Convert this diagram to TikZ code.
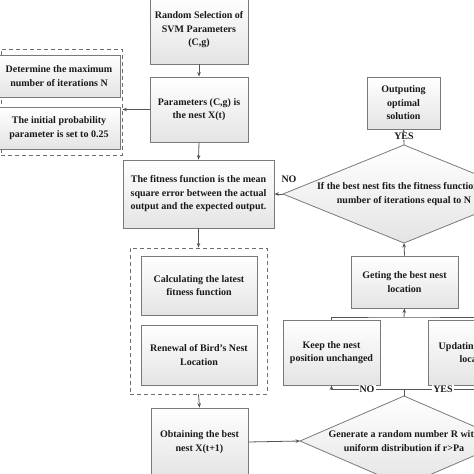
\documentclass[tikz,border=0pt]{standalone}
\usepackage{fontspec}
\setmainfont{Liberation Serif}
\usetikzlibrary{arrows.meta}
\definecolor{boxgray}{HTML}{7A7A7A}
\definecolor{fillgray}{HTML}{E4E4E4}
\definecolor{grpgray}{HTML}{6E6E6E}
\definecolor{arrgray}{HTML}{555555}
\definecolor{txt}{HTML}{1A1A1A}
\begin{document}
\begin{tikzpicture}[x=1pt,y=-1pt,
  box/.style={draw=boxgray, line width=0.8pt, top color=white, bottom color=fillgray,
    font=\bfseries\fontsize{10}{13.5}\selectfont, text=txt, align=center, inner sep=1pt},
  grp/.style={draw=grpgray, dash pattern=on 4pt off 3pt, line width=0.9pt},
  arr/.style={-{Stealth[length=4.5pt,width=3.6pt]}, draw=arrgray, line width=0.8pt},
  conn/.style={draw=arrgray, line width=0.8pt},
  lbl/.style={font=\bfseries\fontsize{10}{12}\selectfont, text=txt, inner sep=1pt},
  dtext/.style={font=\bfseries\fontsize{10}{13.5}\selectfont, text=txt, align=center, inner sep=0pt},
  diam/.style={draw=boxgray, line width=0.8pt, top color=white, bottom color=fillgray}
]
\useasboundingbox (0,0) rectangle (474,474);
\clip (0,0) rectangle (474,474);

% left column
\node[box, minimum width=98pt, minimum height=68pt] (b1) at (199,30) {Random Selection of\\SVM Parameters\\(C,g)};
\node[box, minimum width=98pt, minimum height=65pt] (b2) at (199,109.5) {Parameters (C,g) is\\the nest X(t)};
\node[grp, minimum width=121pt, minimum height=106pt] (g1) at (61.5,102) {};
\node[box, minimum width=122pt, minimum height=42pt] (nmax) at (59,76) {Determine the maximum\\number of iterations N};
\node[box, minimum width=122pt, minimum height=42pt] (prob) at (59,128) {The initial probability\\parameter is set to 0.25};
\node[box, minimum width=151pt, minimum height=68pt] (b3) at (198.5,194) {The fitness function is the mean\\square error between the actual\\output and the expected output.};
\node[grp, minimum width=137pt, minimum height=146pt] (g2) at (198.5,321) {};
\node[box, minimum width=116pt, minimum height=59pt] (calc) at (199,285.5) {Calculating the latest\\fitness function};
\node[box, minimum width=116pt, minimum height=60pt] (renew) at (199,355) {Renewal of Bird's Nest\\Location};
\node[box, minimum width=97pt, minimum height=68pt] (obt) at (199.5,442) {Obtaining the best\\nest X(t+1)};

% right column
\node[box, minimum width=73pt, minimum height=52pt] (out) at (403.5,103) {Outputing\\optimal\\solution};
\coordinate (d1t) at (404,145);
\coordinate (d1b) at (404,243);
\coordinate (d1l) at (283,194);
\coordinate (d1r) at (525,194);
\path[diam] (d1t) -- (d1r) -- (d1b) -- (d1l) -- cycle;
\node[dtext] (d1) at (404,194) {If the best nest fits the fitness function or\\number of iterations equal to N};
\node[box, minimum width=107pt, minimum height=52pt] (get) at (404.5,282) {Geting the best nest\\location};
\node[box, minimum width=97pt, minimum height=65pt] (keep) at (331.5,352.5) {Keep the nest\\position unchanged};
\node[box, minimum width=97pt, minimum height=65pt] (upd) at (476.5,352.5) {Updating the nest\\location};
\coordinate (d2t) at (404,396);
\coordinate (d2b) at (404,486);
\coordinate (d2l) at (300,441);
\coordinate (d2r) at (508,441);
\path[diam] (d2t) -- (d2r) -- (d2b) -- (d2l) -- cycle;
\node[dtext] (d2) at (404,441) {Generate a random number R with\\uniform distribution if r>Pa};

% connectors
\draw[arr] (b1.south) -- (b2.north);
\draw[arr] (b2.west) -- (g1.east |- b2.west);
\draw[arr] (b2.south) -- (b3.north);
\draw[arr] (b3.south) -- (g2.north);
\draw[arr] (g2.south) -- (obt.north);
\draw[arr] (obt.east) -- (d2l);
\coordinate (j2) at (404,389);
\draw[conn] (d2t) -- (j2);
\draw[arr] (j2) -| (keep.south);
\draw[arr] (j2) -| (upd.south);
\node[lbl, fill=white] (no2) at (367,389) {NO};
\node[lbl, fill=white] (yes2) at (443,389) {YES};
\coordinate (j1) at (404,317);
\draw[conn] (keep.north) |- (j1) -| (upd.north);
\draw[arr] (j1) -- (get.south);
\draw[arr] (get.north) -- (d1b);
\draw[arr] (d1t) -- (out.south);
\node[lbl, fill=white] (yes1) at (404,136) {YES};
\draw[arr] (d1l) -- (b3.east |- d1l);
\node[lbl] (no1) at (289,179) {NO};
\end{tikzpicture}
\end{document}
